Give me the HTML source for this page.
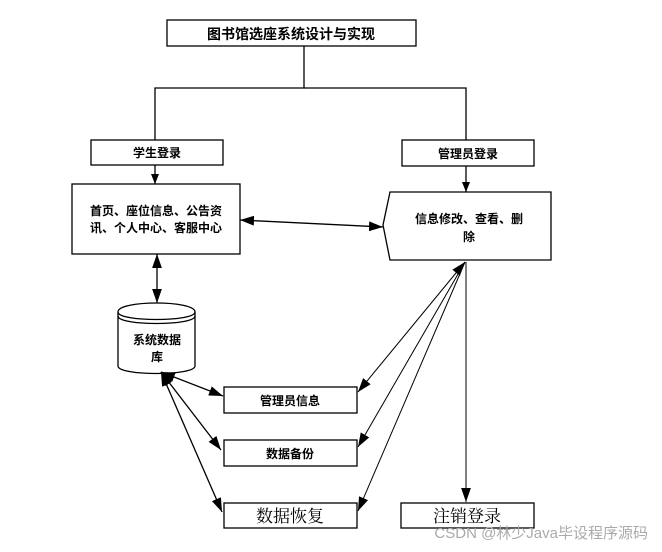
<!DOCTYPE html>
<html><head><meta charset="utf-8"><style>
body{margin:0;background:#fff;}
svg{display:block;}
text{font-family:"Liberation Sans","Noto Sans CJK SC",sans-serif;font-weight:bold;fill:#000;}
text.n{font-weight:normal;}
</style></head><body>
<svg width="662" height="552" viewBox="0 0 662 552" xmlns="http://www.w3.org/2000/svg">
<defs>
<marker id="a" viewBox="0 0 10 10" refX="10" refY="5" markerWidth="10" markerHeight="10" markerUnits="userSpaceOnUse" orient="auto-start-reverse">
<path d="M0,1 L10,5 L0,9 z" fill="#000"/></marker>
<marker id="b" viewBox="0 0 10 10" refX="10" refY="5" markerWidth="14" markerHeight="14" markerUnits="userSpaceOnUse" orient="auto-start-reverse">
<path d="M0,1.5 L10,5 L0,8.5 z" fill="#000"/></marker>
</defs>
<g stroke="#000" fill="none" stroke-width="1.3">
<rect x="167" y="20" width="249" height="26" fill="#fff"/>
<polyline points="304,46 304,88 155,88 155,140"/>
<polyline points="304,88 466,88 466,140"/>
<rect x="91" y="140" width="132" height="25"/>
<rect x="402" y="140" width="132" height="26"/>
<line x1="155" y1="165" x2="155" y2="184" marker-end="url(#a)"/>
<line x1="466" y1="166" x2="466" y2="192" marker-end="url(#a)"/>
<rect x="72" y="184" width="168" height="70"/>
<polygon points="390,192 551,192 551,260 390,260 383,225"/>
<line x1="240" y1="220" x2="383" y2="227" marker-start="url(#b)" marker-end="url(#b)"/>
<line x1="157" y1="254" x2="157" y2="303" marker-start="url(#b)" marker-end="url(#b)"/>
<path d="M118,312 C118,300 195,300 195,312 L195,366 C195,376 118,376 118,366 Z" fill="#fff"/>
<path d="M118,312 C118,322 195,322 195,312"/>
<path d="M118,316 C118,326 195,326 195,316"/>
<rect x="224" y="387" width="133" height="26"/>
<rect x="224" y="440" width="133" height="26"/>
<rect x="224" y="503" width="133" height="25"/>
<rect x="401" y="503" width="133" height="25"/>
<line x1="161" y1="372" x2="223" y2="396" marker-start="url(#b)" marker-end="url(#b)"/>
<line x1="161" y1="372" x2="221" y2="450" marker-start="url(#b)" marker-end="url(#b)"/>
<line x1="161" y1="372" x2="222" y2="512" marker-start="url(#b)" marker-end="url(#b)"/>
<line x1="465" y1="262" x2="358" y2="392" stroke-width="1" marker-start="url(#b)" marker-end="url(#b)"/>
<line x1="465" y1="262" x2="358" y2="447" stroke-width="1" marker-end="url(#b)"/>
<line x1="465" y1="262" x2="358" y2="511" stroke-width="1" marker-end="url(#b)"/>
<line x1="466" y1="262" x2="466" y2="502" stroke-width="1" marker-end="url(#b)"/>
</g>
<text x="291" y="39" font-size="14" text-anchor="middle">图书馆选座系统设计与实现</text>
<text x="157" y="157" font-size="12" text-anchor="middle">学生登录</text>
<text x="468" y="158" font-size="12" text-anchor="middle">管理员登录</text>
<text x="156" y="215" font-size="12" text-anchor="middle">首页、座位信息、公告资</text>
<text x="156" y="232" font-size="12" text-anchor="middle">讯、个人中心、客服中心</text>
<text x="469" y="223" font-size="12" text-anchor="middle">信息修改、查看、删</text>
<text x="469" y="241" font-size="12" text-anchor="middle">除</text>
<text x="157" y="344" font-size="12" text-anchor="middle">系统数据</text>
<text x="157" y="361" font-size="12" text-anchor="middle">库</text>
<text x="290" y="405" font-size="12" text-anchor="middle">管理员信息</text>
<text x="290" y="458" font-size="12" text-anchor="middle">数据备份</text>
<text class="n" x="290" y="522" font-size="17" text-anchor="middle" style="font-family:'Noto Serif CJK SC',serif;font-weight:normal">数据恢复</text>
<text class="n" x="467" y="522" font-size="17" text-anchor="middle" style="font-family:'Noto Serif CJK SC',serif;font-weight:normal">注销登录</text>
<text class="n" x="648" y="538" font-size="15" text-anchor="end" style="fill:#aaa;font-weight:normal">CSDN @林少Java毕设程序源码</text>
</svg>
</body></html>
